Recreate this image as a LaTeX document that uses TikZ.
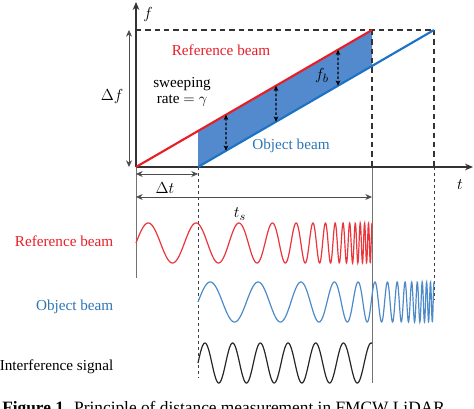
\documentclass[tikz,border=0pt]{standalone}
\usepackage{fontspec}
\setmainfont{Liberation Serif}
\usetikzlibrary{calc,arrows.meta}
\definecolor{refred}{RGB}{232,30,38}
\definecolor{objblue}{RGB}{28,114,196}
\definecolor{wavblue}{RGB}{78,138,200}
\definecolor{fillblue}{RGB}{82,138,205}
\definecolor{txtblue}{RGB}{46,117,182}
\begin{document}
\begin{tikzpicture}[x=0.75pt, y=-0.75pt,
    declare function={chirp(\d)=0.02*\d+0.0102*(exp(\d/34.5)-1);},
    lbl/.style={font=\fontsize{11.4}{13}\selectfont},
    axisline/.style={line width=1.4pt, black!80, -{Stealth[length=6pt,width=5pt]}},
    guide/.style={line width=1.3pt, black!80, dash pattern=on 4pt off 3pt},
    thinline/.style={line width=0.6pt, black!55},
    thindash/.style={line width=0.7pt, black!75, dash pattern=on 2.5pt off 2pt},
    dim/.style={line width=0.6pt, black!70, {Stealth[length=5pt,width=4.5pt]}-{Stealth[length=5pt,width=4.5pt]}},
    fbarrow/.style={line width=0.8pt, black, dash pattern=on 2pt off 1.5pt,
      {Stealth[length=4pt,width=3.5pt]}-{Stealth[length=4pt,width=3.5pt]}},
    wave/.style={line width=0.9pt}]
  \useasboundingbox (0,0) rectangle (474,409);

  % points of the chart
  \coordinate (O) at (136,167);
  \coordinate (ftip) at (136,2);
  \coordinate (ttip) at (473,167);
  \coordinate (fmax) at (136,30);
  \coordinate (R1) at (372,30);
  \coordinate (S) at (198,167);
  \coordinate (E) at (434,30);
  \coordinate (Rs) at ($(O)!62/236!(R1)$);
  \coordinate (Se) at ($(S)!174/236!(E)$);

  % beat region
  \fill[fillblue] (Rs) -- (R1) -- (Se) -- (S) -- cycle;

  % guides
  \draw[guide] (fmax) -- (E);
  \draw[guide] (R1) -- (R1 |- O);
  \draw[guide] (E) -- (E |- O);
  \draw[thinline] (O) -- (136,278);
  \draw[thinline] (R1 |- O) -- (372,383);
  \draw[thindash] (S) -- (198,378);
  \draw[thindash] (E |- O) -- (434,300);

  % axes
  \draw[axisline] (O) -- (ftip);
  \draw[axisline] (O) -- (ttip);
  \node[font=\fontsize{13}{15}\selectfont] (flab) at (148,15) {$f$};
  \node[font=\fontsize{13}{15}\selectfont] (tlab) at (460,185) {$t$};

  % frequency ramps
  \draw[refred, line width=1.6pt] (O) -- (R1);
  \draw[objblue, line width=1.6pt] (S) -- (E);

  % beat frequency arrows
  \foreach \xx in {226,276,338}
    \draw[fbarrow] ($(O)!{(\xx-136)/236}!(R1)$) -- ($(S)!{(\xx-198)/236}!(E)$);

  % dimensions
  \coordinate (df1) at (129,30);
  \coordinate (df0) at (129,167);
  \draw[dim] (df1) -- (df0);
  \node[font=\fontsize{12.5}{14}\selectfont] (dflab) at (112,97) {$\Delta f$};
  \coordinate (dt0) at (136,174);
  \coordinate (dt1) at (198,174);
  \draw[dim] (dt0) -- (dt1);
  \node[font=\fontsize{12.5}{14}\selectfont] (dtlab) at (165,188) {$\Delta t$};
  \coordinate (ts0) at (136,197);
  \coordinate (ts1) at (372,197);
  \draw[dim] (ts0) -- (ts1);
  \node[font=\fontsize{12.5}{14}\selectfont] (tslab) at (240,214) {$t_s$};

  % chart labels
  \node[lbl, text=refred] (reftop) at (221,50) {Reference beam};
  \node[lbl, align=center] (rate) at (182,92) {sweeping\\[-1pt]rate $=\gamma$};
  \node[font=\fontsize{12.5}{14}\selectfont] (fblab) at (322,76) {$f_b$};
  \node[lbl, text=txtblue] (objtop) at (291,146) {Object beam};

  % signals
  \draw[wave, refred!90] plot[domain=0:236, samples=900, variable=\d]
    ({136+\d}, {243-20*sin(360*chirp(\d))});
  \draw[wave, wavblue] plot[domain=0:236, samples=900, variable=\d]
    ({198+\d}, {302-20*sin(360*chirp(\d))});
  \draw[wave, black!85] plot[domain=198:372, samples=300, variable=\x]
    (\x, {363-20*sin(12.996*(\x-198))});
  \node[lbl, text=refred, anchor=east] (refsig) at (118,241) {Reference beam};
  \node[lbl, text=txtblue, anchor=east] (objsig) at (118,307) {Object beam};
  \node[lbl, anchor=east] (intsig) at (118,367) {Interference signal};

  % caption, cut by the page edge as in the source
  \node[font=\fontsize{13}{15}\selectfont, anchor=base west, inner sep=0pt] (cap) at (2,413.5)
    {\textbf{Figure 1.} Principle of distance measurement in FMCW LiDAR};
\end{tikzpicture}
\end{document}
